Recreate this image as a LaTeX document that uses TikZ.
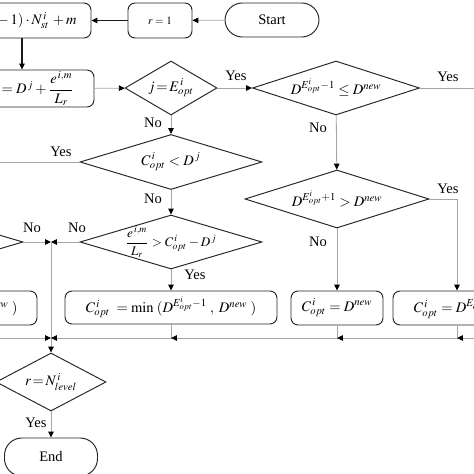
\documentclass[tikz,border=0pt]{standalone}
\usepackage{amsmath}
\usepackage{mathptmx}
\usepackage{fontspec}
\setmainfont{Liberation Serif}
\usetikzlibrary{positioning, arrows.meta, shapes.geometric, calc}

\begin{document}
\begin{tikzpicture}[
        x=0.254mm, y=-0.254mm,
        font=\fontsize{10.5}{12}\selectfont,
        box/.style 2 args={draw=black!85, line width=0.7pt, rounded corners=1.8mm, minimum width=#1*0.254mm, minimum height=#2*0.254mm, inner sep=0pt},
        term/.style 2 args={box={#1}{#2}, rounded corners=4.4mm},
        cond/.style n args={3}{draw=black!85, line width=0.7pt, diamond, aspect=#3, inner sep=0pt, minimum width=#1*0.254mm, minimum height=#2*0.254mm},
        wire/.style={draw=black!35, line width=0.6pt},
        flow/.style={wire, -{Triangle[length=1.5mm, width=1.4mm, color=black]}},
        darkflow/.style={flow, draw=black!90, line width=0.8pt},
        lbl/.style={inner sep=0pt},
    ]
    \useasboundingbox (0,0) rectangle (474,474);
    \clip (0,0) rectangle (474,474);

    % Top row
    \node[term={94}{34}] (start) at (272,20) {Start};
    \node[box={64}{35}, font=\fontsize{8}{10}\selectfont] (rone) at (160,20.5) {$r=1$};
    \node[box={146}{35}] (jbox) at (18,20.5) {$j=(r-1)\cdot N^{\,i}_{st}\,+m$};
    \node[box={144}{37}] (dnew) at (22,88.5) {$D^{new}=D^{\,j}+\dfrac{e^{\,i,m}}{L_r}$};

    % Decisions
    \node[cond={92}{54}{1.7}] (djE) at (171,88) {$j\!=\!E^{\,i}_{opt}$};
    \node[cond={167}{54}{3.1}] (dlow) at (336,88) {$D^{E^{i}_{opt}-1}\le D^{new}$};
    \node[cond={182}{55}{3.3}] (dcj) at (171,162) {$C^{\,i}_{opt}<D^{\,j}$};
    \node[cond={184}{58}{3.2}] (dhigh) at (337,199) {$D^{E^{i}_{opt}+1}>D^{new}$};
    \node[cond={182}{54}{3.4}, inner sep=-4pt, font=\fontsize{9.5}{11}\selectfont] (dfrac) at (171,242) {$\dfrac{e^{\,i,m}}{L_r}>C^{\,i}_{opt}-D^{\,j}$};
    \node[cond={182}{54}{3.4}] (dleft) at (-68,242) {};

    % Updates
    \node[box={212}{34}] (bleft) at (-69,308) {$C^{\,i}_{opt}\;=\max\;(D^{E^{i}_{opt}+1}\;,\;D^{new}\;)$};
    \node[box={212}{33}] (bmin) at (171,307.5) {$C^{\,i}_{opt}\;=\min\;(D^{E^{i}_{opt}-1}\;,\;D^{new}\;)$};
    \node[box={92}{34}] (bnew) at (337,308) {$C^{\,i}_{opt}=D^{new}$};
    \node[box={128}{34}] (bhigh) at (457,308) {$C^{\,i}_{opt}=D^{E^{i}_{opt}+1}$};

    % Bottom
    \node[cond={110}{58}{1.9}] (dlev) at (51,382) {$r\!=\!N^{\,i}_{level}$};
    \node[term={93}{38}] (fin) at (51,457) {End};

    % Junctions
    \coordinate (m1) at (51,242);
    \coordinate (m2) at (51,338);
    \coordinate (j1) at (bmin.south |- m2);
    \coordinate (j2) at (bnew.south |- m2);
    \coordinate (j3) at (bhigh.south |- m2);
    \coordinate (rin) at (490,338);
    \coordinate (yout) at (490,88);
    \coordinate (lout) at (-20,162);

    % Connectors
    \draw[flow] (start) -- (rone);
    \draw[darkflow] (rone) -- (jbox);
    \draw[darkflow] (jbox.south -| dnew.north) -- (dnew);
    \draw[flow] (dnew) -- (djE);
    \draw[flow] (djE) -- (dlow);
    \draw[flow] (djE) -- (dcj);
    \draw[wire] (dlow.east) -- (yout);
    \draw[flow] (dlow) -- (dhigh);
    \draw[wire] (dcj.west) -- (lout);
    \draw[flow] (dcj) -- (dfrac);
    \draw[flow] (dhigh.east) -| (bhigh.north);
    \draw[flow] (dhigh) -- (bnew);
    \draw[flow] (dfrac) -- (bmin);
    \draw[flow] (dfrac.west) -- (m1);
    \draw[flow] (dleft.east) -- (m1);
    \draw[flow] (m1) -- (dlev.north);
    \draw[flow] (bleft.south) |- (m2);
    \draw[flow] (bmin.south) |- (m2);
    \draw[flow] (bnew.south) |- (j1);
    \draw[flow] (bhigh.south) |- (j2);
    \draw[flow] (rin) -- (j3);
    \draw[flow] (dlev) -- (fin);

    % Labels
    \node[lbl] (y1) at (236,76) {Yes};
    \node[lbl] (n1) at (153,123) {No};
    \node[lbl] (y2) at (448,77) {Yes};
    \node[lbl] (n2) at (318,128) {No};
    \node[lbl] (y3) at (61,152) {Yes};
    \node[lbl] (n3) at (153,199) {No};
    \node[lbl] (y4) at (448,189) {Yes};
    \node[lbl] (n4) at (318,242) {No};
    \node[lbl] (n5) at (77,228) {No};
    \node[lbl] (n6) at (32,228) {No};
    \node[lbl] (y5) at (195,275) {Yes};
    \node[lbl] (y6) at (36,423) {Yes};
\end{tikzpicture}
\end{document}
